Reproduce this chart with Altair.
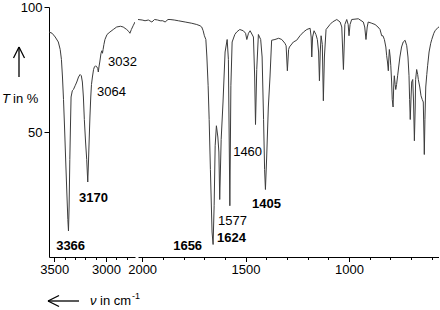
import altair as alt
import pandas as pd

FONT = "Liberation Sans"
LINE = "#3c3c3c"

# ---- spectrum, high-wavenumber segment ----
left_wn = [3550, 3520, 3490, 3460, 3442, 3430, 3420, 3410, 3400, 3390, 3378, 3368, 3362, 3356,
           3349, 3343, 3337, 3325, 3314, 3298, 3282, 3265, 3250, 3238, 3228, 3218, 3209, 3197,
           3186, 3176, 3169, 3163, 3155, 3147, 3140, 3131, 3120, 3112, 3100, 3089, 3080, 3074,
           3068, 3060, 3048, 3040, 3034, 3028, 3020, 3010, 2990, 2962, 2930, 2897, 2860, 2834,
           2800, 2780, 2769, 2755, 2738, 2720]
left_T = [90, 89.5, 88, 86, 83, 79, 72, 63, 52, 40, 26, 15, 10.4, 20,
          39, 52, 64, 66.5, 67, 68.5, 70, 72, 73, 72.5, 70, 64, 55, 46,
          39, 30, 38, 46, 56, 64, 69, 72, 75, 76, 76.5, 76, 75.5, 74,
          76, 78, 81.5, 82.5, 81.5, 83, 85, 87, 89, 90, 91, 92, 92.3, 92,
          91, 90.2, 89.5, 91, 92.5, 94]

# ---- spectrum, fingerprint segment ----
right_wn = [2020, 2000, 1986, 1970, 1953, 1940, 1925, 1913, 1900, 1889, 1875, 1865, 1845, 1825,
            1792, 1760, 1736, 1720, 1712, 1705, 1699, 1692, 1687, 1681, 1676, 1670, 1662, 1657,
            1652, 1647, 1641, 1634, 1629, 1625, 1618, 1609, 1599, 1589, 1583, 1576, 1571, 1565,
            1552, 1543, 1528, 1511, 1500, 1494, 1486, 1478, 1462, 1456, 1452, 1446, 1438, 1427,
            1420, 1413, 1408, 1404, 1398, 1390, 1382, 1374, 1358, 1340, 1325, 1310, 1304, 1298,
            1292, 1288, 1269, 1253, 1237, 1220, 1204, 1188, 1183, 1180, 1176, 1169, 1160, 1153,
            1147, 1143, 1139, 1135, 1129, 1124, 1119, 1111, 1092, 1080, 1059, 1043, 1035, 1027,
            1020, 1011, 1004, 1000, 995, 987, 955, 931, 924, 918, 912, 907, 890, 874,
            860, 850, 842, 836, 829, 822, 818, 814, 810, 807, 805, 801, 798, 794,
            791, 787, 784, 781, 777, 774, 770, 765, 760, 754, 746, 738, 729, 721,
            715, 710, 707, 704, 700, 697, 692, 688, 684, 680, 678, 673, 668, 665,
            658, 652, 646, 641, 638, 636, 633, 629, 624, 620, 613, 605, 600, 590,
            584, 570, 565]
right_T = [95, 94.8, 94.5, 94.8, 94, 95, 94.8, 94.5, 94.5, 94, 95, 95, 94.8, 94.5,
           94, 93.5, 93, 92.5, 92, 90.5, 88.5, 87, 80, 68.5, 55, 35, 10, 5,
           20.5, 44.5, 52.5, 48, 42, 23, 47, 62, 82, 87, 79, 20.5, 68.5, 86,
           89, 90, 91, 90.5, 89.5, 87, 89.5, 90.5, 88, 72, 53, 75, 89, 87,
           80, 55, 35, 27, 40, 60, 72, 86.7, 87, 87.5, 87, 85.5, 84.5, 74.5,
           83, 84, 86, 86.7, 88.5, 90, 91, 91.5, 88, 80, 88, 90.5, 89, 87,
           82, 70.5, 82, 88.5, 85, 62.5, 80, 91, 93, 94, 95, 94, 92, 75,
           93, 95, 93, 88.5, 93, 95, 95.3, 94, 92, 87, 92, 94, 93.5, 93,
           92, 91, 88.5, 88.5, 87, 84, 80.5, 78, 74.5, 80, 83, 80, 76.5, 70,
           63, 60, 68, 72.5, 69, 67, 69, 72.5, 76, 80, 84, 86, 86.7, 84.5,
           80, 72.5, 63, 55, 64, 70, 71, 62, 46.5, 60, 71, 75, 73, 71,
           68, 64.5, 63, 62, 50, 41, 55, 68, 73, 76.5, 82, 85.5, 87, 89.5,
           90.5, 91.8, 92]

# ---- peak labels ----
label_text = ["3366", "3170", "3064", "3032", "1656", "1624", "1577", "1405", "1460"]
label_wn = [3481, 3260, 3087, 2981, 1850, 1638, 1633, 1469, 1560]
label_T = [4.4, 23.6, 66, 78, 4.4, 7.6, 14.4, 21.2, 42]
label_bold = [True, True, False, False, True, True, False, True, False]

left_ticks = [3500, 3400, 3300, 3200, 3100, 3000, 2900, 2800]
right_ticks = [2000, 1900, 1800, 1700, 1600, 1500, 1400, 1300, 1200, 1100, 1000, 900, 800, 700, 600]
y_ticks = [50, 100]

left_df = pd.DataFrame({"wn": left_wn, "T": left_T})
right_df = pd.DataFrame({"wn": right_wn, "T": right_T})
lab_df = pd.DataFrame({"wn": label_wn, "T": label_T, "text": label_text, "bold": label_bold})
lab_left = lab_df[lab_df["wn"] > 2100]
lab_right = lab_df[lab_df["wn"] <= 2100]


def xaxis(vals):
    return alt.Axis(values=vals, format="d",
                    labelExpr="datum.value % 500 === 0 ? datum.label : ''",
                    tickSize={"condition": {"test": "datum.value % 500 === 0", "value": 4.5}, "value": 2.5},
                    grid=False, domainColor="black", tickColor="black", labelColor="black",
                    labelFont=FONT, labelFontSize=13, labelPadding=2, title=None,
                    labelFlush=False, labelOverlap=False, domainWidth=1, tickWidth=1)


yscale = alt.Scale(domain=[0, 100], nice=False, zero=False)
yaxis_left = alt.Axis(values=y_ticks, tickSize=5, labelPadding=2, title=None, grid=False, orient="left",
                      domainColor="black", tickColor="black", labelColor="black",
                      labelFont=FONT, labelFontSize=13, domainWidth=1, tickWidth=1)
left_scale = alt.Scale(domain=[2720, 3550], reverse=True, nice=False, zero=False)
right_scale = alt.Scale(domain=[565, 2020], reverse=True, nice=False, zero=False)


def panel(df, labs, xscale, ticks, yaxis):
    x_ax = alt.X("wn:Q", scale=xscale, axis=xaxis(ticks))
    y_ax = alt.Y("T:Q", scale=yscale, axis=yaxis)
    x_plain = alt.X("wn:Q", scale=xscale, axis=None)
    y_plain = alt.Y("T:Q", scale=yscale, axis=None)
    line = alt.Chart(df).mark_line(color=LINE, strokeWidth=1, clip=True).encode(x=x_ax, y=y_ax)
    bold = alt.Chart(labs[labs["bold"]]).mark_text(
        font=FONT, fontSize=13, fontWeight="bold", align="left", baseline="middle", color="black"
    ).encode(x=x_plain, y=y_plain, text="text:N")
    norm = alt.Chart(labs[~labs["bold"]]).mark_text(
        font=FONT, fontSize=13, align="left", baseline="middle", color="black"
    ).encode(x=x_plain, y=y_plain, text="text:N")
    return [line, bold, norm]


one = pd.DataFrame({"a": [0]})


def txt(s, xv, yv, size=13, style="normal"):
    return alt.Chart(one).mark_text(font=FONT, fontSize=size, fontStyle=style, align="left",
                                    baseline="middle", color="black").encode(
        x=alt.value(xv), y=alt.value(yv), text=alt.value(s))


def seg(x1, y1, x2, y2, w=1.3):
    return alt.Chart(one).mark_rule(color="black", strokeWidth=w).encode(
        x=alt.value(x1), y=alt.value(y1), x2=alt.value(x2), y2=alt.value(y2))


deco = [
    # y title: arrow + "T in %"
    seg(-30, 40, -30, 70), seg(-30, 40, -35.5, 51), seg(-30, 40, -24.5, 51),
    txt("T", -47, 92, style="italic"), txt("in %", -36, 92),
    # x title: arrow + "ν in cm-1"
    seg(-1, 294, 30, 294), seg(-1, 294, 10, 288.5), seg(-1, 294, 10, 299.5),
    txt("ν", 41, 294, style="italic"), txt("in cm", 51, 294), txt("-1", 83, 289, size=9),
]

left = alt.layer(*panel(left_df, lab_left, left_scale, left_ticks, yaxis_left), *deco).resolve_axis(
    x="independent", y="independent").properties(width=86, height=250)
right = alt.layer(*panel(right_df, lab_right, right_scale, right_ticks, None)).resolve_axis(
    x="independent", y="independent").properties(width=301, height=250)

chart = alt.hconcat(left, right, spacing=3, bounds="flush").properties(
    padding={"left": 2, "top": 1, "right": 0, "bottom": 0},
    background="white",
).configure_view(strokeWidth=0, stroke="transparent", strokeOpacity=0)

chart.save("out.html", embed_options={"renderer": "svg", "actions": False})
